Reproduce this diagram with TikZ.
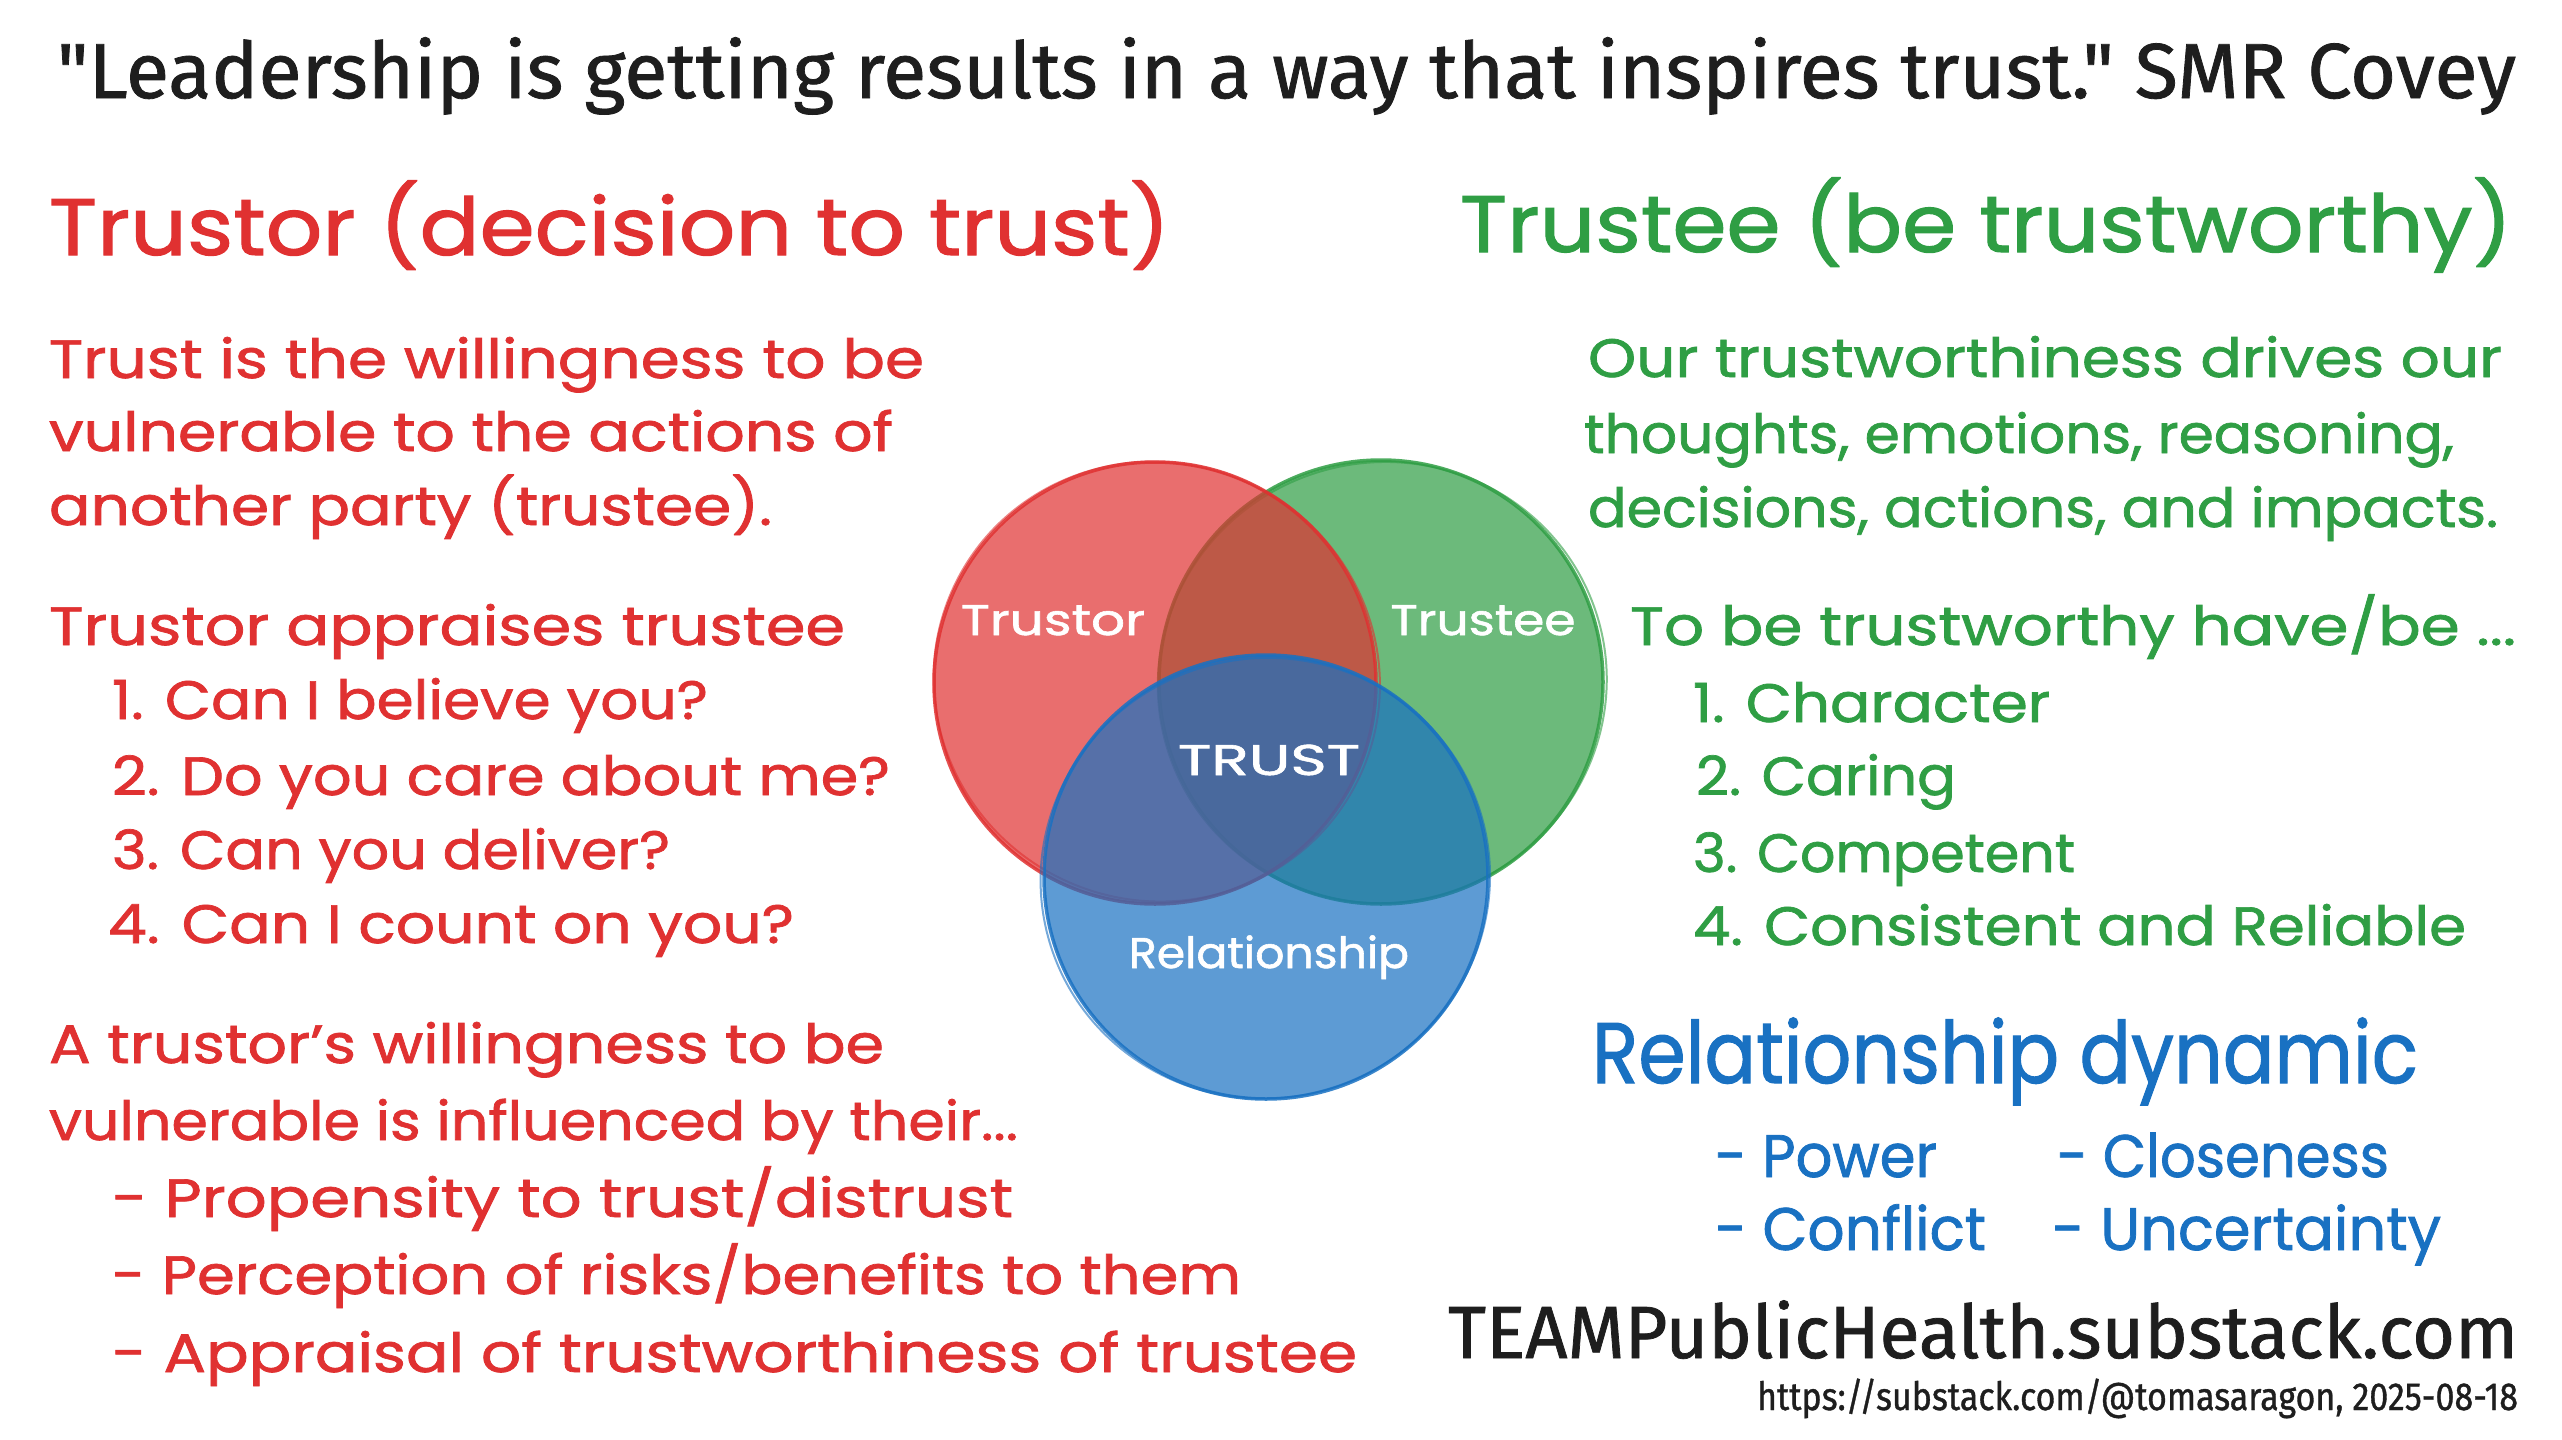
\documentclass[tikz,border=0pt]{standalone}
\usepackage{fontspec}
\setmainfont{Poppins}[FakeBold=1.3]
\newfontfamily\qfont{Fira Sans}[FakeBold=1.0]
\definecolor{tred}{HTML}{E03131}
\definecolor{tgreen}{HTML}{2F9E44}
\definecolor{tblue}{HTML}{1971C2}
\definecolor{tblack}{HTML}{1E1E1E}
\newcommand{\fw}[2]{\resizebox{#1pt}{\height}{#2}}
\tikzset{
  txt/.style={inner sep=0pt, outer sep=0pt, anchor=base west},
  redbody/.style={txt, text=tred, font=\fontsize{54}{60}\selectfont},
  greenbody/.style={txt, text=tgreen, font=\fontsize{54}{60}\selectfont},
  bluebody/.style={txt, text=tblue, font=\fontsize{60}{66}\selectfont},
  headtxt/.style={txt, font=\fontsize{80}{90}\selectfont},
  circlabel/.style={inner sep=0pt, anchor=base, text=white, font=\fontsize{43}{50}\selectfont},
  vfill/.style={fill opacity=0.7},
  vline/.style={line width=3.5pt, draw opacity=0.85},
  vsketch/.style={line width=2pt, draw opacity=0.6},
}
\begin{document}
\begin{tikzpicture}[x=1pt,y=-1pt]
\useasboundingbox (0,0) rectangle (2562,1440);
\fill[white] (0,0) rectangle (2562,1440);

% quote
\node[txt, text=tblack, font=\qfont\fontsize{78}{86}\selectfont] (quote) at (57,98)
  {\fw{2459}{"Leadership is getting results in a way that inspires trust." SMR Covey}};

% headings
\node[headtxt, text=tred] (hleft) at (49,255) {\fw{1121}{Trustor (decision to trust)}};
\node[headtxt, text=tgreen] (hright) at (1460,252) {\fw{1052}{Trustee (be trustworthy)}};

% left column
\node[redbody] (l1) at (49,378) {\fw{875}{Trust is the willingness to be}};
\node[redbody] (l2) at (49,451) {\fw{844}{vulnerable to the actions of}};
\node[redbody] (l3) at (49,525) {\fw{723}{another party (trustee).}};
\node[redbody] (l4) at (49,645) {\fw{796}{Trustor appraises trustee}};
\node[redbody] (l5) at (112,719) {\fw{596}{1. Can I believe you?}};
\node[redbody] (l6) at (112,795) {\fw{778}{2. Do you care about me?}};
\node[redbody] (l7) at (112,869) {\fw{558}{3. Can you deliver?}};
\node[redbody] (l8) at (108,943) {\fw{686}{4. Can I count on you?}};
\node[redbody] (l9) at (49,1063) {\fw{835}{A trustor's willingness to be}};
\node[redbody] (l10) at (49,1140) {\fw{969}{vulnerable is influenced by their...}};
\node[redbody] (l11) at (112,1217) {\fw{901}{- Propensity to trust/distrust}};
\node[redbody] (l12) at (112,1294) {\fw{1129}{- Perception of risks/benefits to them}};
\node[redbody] (l13) at (112,1372) {\fw{1245}{- Appraisal of trustworthiness of trustee}};

% right column
\node[greenbody] (r1) at (1588,377) {\fw{914}{Our trustworthiness drives our}};
\node[greenbody] (r2) at (1584,453) {\fw{870}{thoughts, emotions, reasoning,}};
\node[greenbody] (r3) at (1588,527) {\fw{910}{decisions, actions, and impacts.}};
\node[greenbody] (r4) at (1630,645) {\fw{886}{To be trustworthy have/be ...}};
\node[greenbody] (r5) at (1693,722) {\fw{357}{1. Character}};
\node[greenbody] (r6) at (1696,795) {\fw{260}{2. Caring}};
\node[greenbody] (r7) at (1693,872) {\fw{382}{3. Competent}};
\node[greenbody] (r8) at (1693,945) {\fw{773}{4. Consistent and Reliable}};

% relationship dynamic
\node[headtxt, text=tblue, font=\fontsize{86}{94}\selectfont] (rdyn) at (1592,1083) {\fw{826}{Relationship dynamic}};
\node[bluebody] (b1) at (1715,1177) {\fw{222}{- Power}};
\node[bluebody] (b2) at (2057,1177) {\fw{332}{- Closeness}};
\node[bluebody] (b3) at (1715,1250) {\fw{271}{- Conflict}};
\node[bluebody] (b4) at (2052,1250) {\fw{389}{- Uncertainty}};

% footer
\node[txt, text=tblack, font=\qfont\fontsize{74}{80}\selectfont] (site) at (1448,1358)
  {\fw{1070}{TEAMPublicHealth.substack.com}};
\node[txt, text=tblack, font=\qfont\fontsize{39}{44}\selectfont] (url) at (1757,1410)
  {\fw{761}{https://substack.com/@tomasaragon, 2025-08-18}};

% Venn circles
\fill[tgreen, vfill] (1381,682) circle (222);
\draw[tgreen, vline] (1381,682) circle (222);
\draw[tgreen, vsketch, rotate around={20:(1381,682)}] (1382,683) ellipse (225 and 220);

\fill[tred, vfill] (1155,683) circle (221);
\draw[tred, vline] (1155,683) circle (221);
\draw[tred, vsketch, rotate around={-25:(1155,683)}] (1156,681) ellipse (224 and 219);

\fill[tblue, vfill] (1266,877) circle (222);
\draw[tblue, vline] (1266,877) circle (222);
\draw[tblue, vsketch, rotate around={15:(1266,877)}] (1265,878) ellipse (225 and 220);

\node[circlabel] (ctrustor) at (1053,635) {\fw{184}{Trustor}};
\node[circlabel] (ctrustee) at (1483,635) {\fw{185}{Trustee}};
\node[circlabel] (ctrust) at (1269,775) {\fw{182}{TRUST}};
\node[circlabel] (crel) at (1269,968) {\fw{280}{Relationship}};
\end{tikzpicture}
\end{document}
